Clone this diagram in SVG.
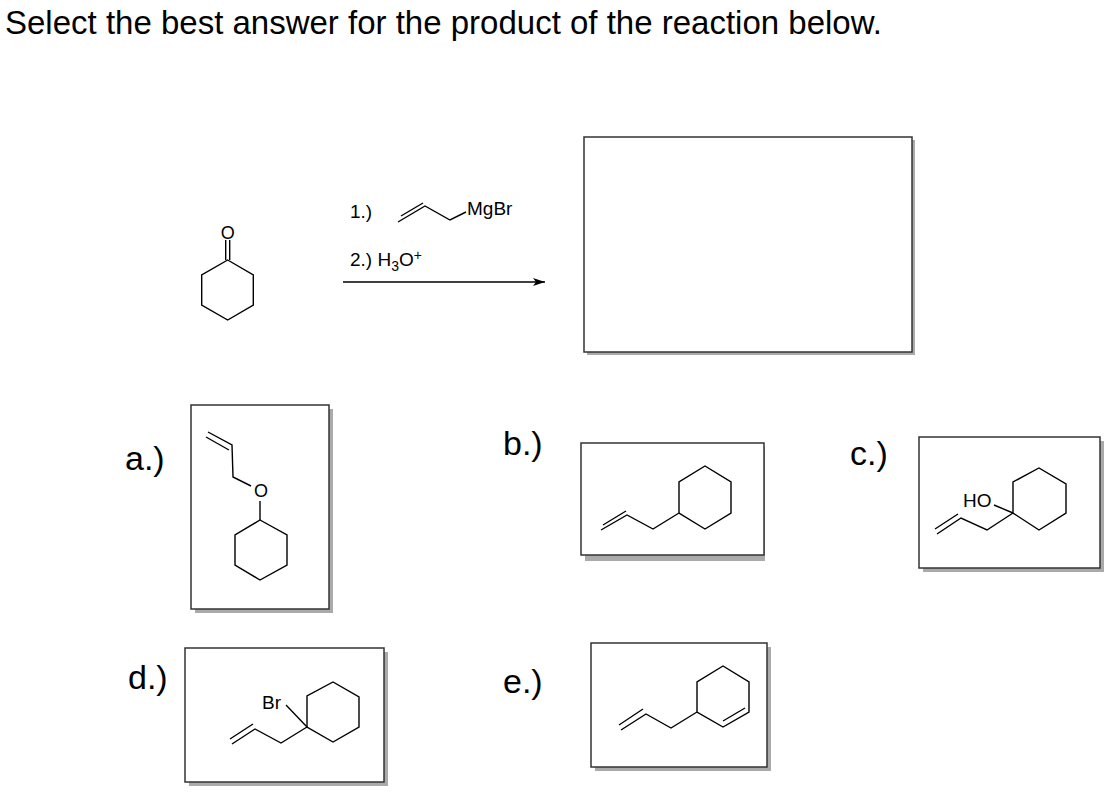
<svg xmlns="http://www.w3.org/2000/svg" width="1114" height="797" viewBox="0 0 1114 797">
<style>
.b{fill:none;stroke:#000;stroke-width:1.4;stroke-linejoin:miter}
.box{fill:#fff;stroke:#333;stroke-width:1.5}
.sh{fill:#aaa}
text{font-family:"Liberation Sans",Arial,sans-serif;fill:#000}
.lab{font-size:34px}
.sm{font-size:19px}
</style>
<defs><marker id="ah" markerWidth="12" markerHeight="8" refX="12" refY="4" orient="auto" markerUnits="userSpaceOnUse"><path d="M0,0 L12,4 L0,8 L3,4 Z" fill="#000"/></marker></defs>
<rect width="1114" height="797" fill="#fff"/>
<text x="5" y="34" font-size="33">Select the best answer for the product of the reaction below.</text>

<g id="reactant">
<polygon class="b" points="227.7,260 253.3,275 253.3,305 227.7,320 201.7,305 201.7,275"/>
<line class="b" x1="225.7" y1="260" x2="225.7" y2="240"/><line class="b" x1="229.7" y1="260" x2="229.7" y2="240"/>
<text x="227.7" y="239" font-size="18" text-anchor="middle">O</text>
</g>
<g id="reagents">
<text x="350" y="218" class="sm">1.)</text>
<polyline class="b" points="398,222 425,206 450,220 466,212"/>
<line class="b" x1="401" y1="216" x2="423" y2="203"/>
<text x="467" y="215" class="sm">MgBr</text>
<text x="350" y="266" class="sm">2.) H<tspan font-size="14" dy="5">3</tspan><tspan dy="-5">O</tspan><tspan font-size="14" dy="-6">+</tspan></text>
</g>
<g id="connectors"><line x1="343" y1="282" x2="545" y2="282" stroke="#000" stroke-width="1.4" marker-end="url(#ah)"/></g>
<g id="answer"><rect class="sh" x="587" y="140" width="328" height="215"/><rect class="box" x="584" y="137" width="328" height="215"/></g>

<g id="opt-a">
<text x="125" y="470" class="lab">a.)</text>
<rect class="sh" x="195" y="409" width="138" height="204"/><rect class="box" x="191" y="405" width="138" height="204"/>
<polyline class="b" points="208,432 232,445 233,477 251,486"/>
<line class="b" x1="206" y1="437" x2="229" y2="450"/>
<text x="261" y="497" font-size="18" text-anchor="middle">O</text>
<line class="b" x1="260" y1="501" x2="260" y2="520"/>
<polygon class="b" points="260,520 287,535 287,565 260,580 235,565 235,535"/>
</g>

<g id="opt-b">
<text x="503" y="455" class="lab">b.)</text>
<rect class="sh" x="585" y="447" width="180" height="114"/><rect class="box" x="581" y="443" width="183" height="112"/>
<polyline class="b" points="601,530 627,515 653,529 679,513"/>
<line class="b" x1="603" y1="525" x2="626" y2="511"/>
<polygon class="b" points="679,513 679,482 705,466 731,482 731,513 705,529"/>
</g>

<g id="opt-c">
<text x="850" y="465" class="lab">c.)</text>
<rect class="sh" x="923" y="441" width="181" height="131"/><rect class="box" x="919" y="437" width="181" height="131"/>
<polyline class="b" points="937,534 961,518 987,530 1013,513"/>
<line class="b" x1="935" y1="529" x2="958" y2="514"/>
<polygon class="b" points="1013,513 1013,482 1039,468 1066,484 1066,513 1039,530"/>
<text x="963" y="507" class="sm">HO</text>
<line class="b" x1="994" y1="505" x2="1013" y2="513"/>
</g>

<g id="opt-d">
<text x="128" y="689" class="lab">d.)</text>
<rect class="sh" x="189" y="652" width="199" height="134"/><rect class="box" x="185" y="648" width="199" height="134"/>
<polyline class="b" points="232,744 255,729 281,743 307,727"/>
<line class="b" x1="230" y1="739" x2="253" y2="724"/>
<polygon class="b" points="307,727 307,696 333,682 359,697 359,727 333,742"/>
<text x="262" y="709" class="sm">Br</text>
<line class="b" x1="286" y1="705" x2="307" y2="727"/>
</g>

<g id="opt-e">
<text x="503" y="693" class="lab">e.)</text>
<rect class="sh" x="595" y="647" width="176" height="124"/><rect class="box" x="591" y="643" width="176" height="124"/>
<polyline class="b" points="621,730 646,714 671,728 697,712"/>
<line class="b" x1="619" y1="725" x2="643" y2="709"/>
<polygon class="b" points="697,712 697,682 723,666 749,682 749,712 723,727"/>
<line class="b" x1="723" y1="721" x2="745" y2="708"/>
</g>
</svg>
